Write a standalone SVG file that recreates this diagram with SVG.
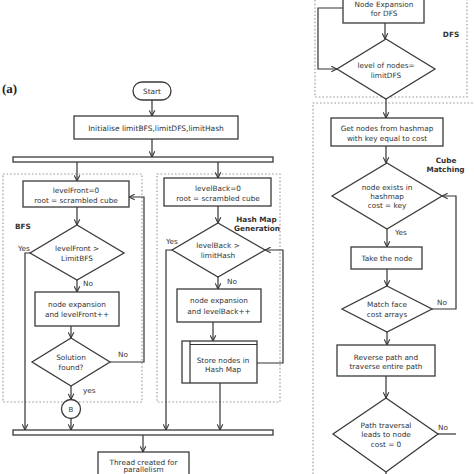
<svg xmlns="http://www.w3.org/2000/svg" width="474" height="474" viewBox="0 0 474 474">
<defs>
<marker id="ah" viewBox="0 0 8 8" refX="7.5" refY="4" markerWidth="7" markerHeight="7" orient="auto" markerUnits="userSpaceOnUse">
<path d="M1,0.8 L7.5,4 L1,7.2" fill="none" stroke="#333" stroke-width="1.2"/>
</marker>
<style>
.bx{fill:#fff;stroke:#3a3a3a;stroke-width:1.3}
.rg{fill:none;stroke:#9a9a9a;stroke-width:1.1;stroke-dasharray:1.6,2}
.ln{fill:none;stroke:#333;stroke-width:1.2}
.ar{fill:none;stroke:#333;stroke-width:1.2;marker-end:url(#ah)}
text{font-family:"DejaVu Sans","Liberation Sans",sans-serif;font-size:7.3px;fill:#333;text-anchor:middle}
.lb{text-anchor:start}
.bd{font-weight:bold}
.tag{font-family:"Liberation Serif",serif;font-weight:bold;font-size:13px;fill:#222;text-anchor:start}
</style>
</defs>
<rect width="474" height="474" fill="#fff"/>
<text x="2" y="93" class="tag">(a)</text>

<g id="regions">
<rect class="rg" x="3" y="174" width="139" height="228"/>
<rect class="rg" x="157" y="174" width="123" height="228"/>
<path class="rg" d="M315,0 V97 H467 V0"/>
<path class="rg" d="M313,474 V103 H474"/>
</g>

<g id="connectors">
<path class="ar" d="M152,100 V116"/>
<path class="ar" d="M152,139 V157"/>
<path class="ar" d="M77,162 V181"/>
<path class="ar" d="M218,162 V178"/>
<path class="ar" d="M77,207 V225"/>
<path class="ar" d="M30,253 H25 V430"/>
<path class="ar" d="M77,280 V292"/>
<path class="ar" d="M71,326 V338"/>
<path class="ar" d="M110,362 H144 V197 H129"/>
<path class="ar" d="M71,386 V399.5"/>
<path class="ar" d="M71,418.5 V430"/>
<path class="ar" d="M218,206 V223"/>
<path class="ar" d="M172,250 H166 V430"/>
<path class="ar" d="M218,277 V289"/>
<path class="ar" d="M213,322 V341"/>
<path class="ar" d="M257,363 H283 V250 H265"/>
<path class="ar" d="M220,383 V430"/>
<path class="ar" d="M143,435 V452"/>
<path class="ar" d="M385,23 V39"/>
<path class="ar" d="M343,8 H318 V69 H337"/>
<path class="ar" d="M386,99 V118"/>
<path class="ar" d="M386,146 V163"/>
<path class="ar" d="M387,229 V247"/>
<path class="ar" d="M387,269 V286"/>
<path class="ar" d="M432,309 H456 V196 H442"/>
<path class="ar" d="M387,332 V345"/>
<path class="ar" d="M386,376 V398"/>
<path class="ln" d="M438,434 H456"/>
<path class="ln" d="M386,472 V474"/>
</g>

<g id="start">
<rect class="bx" x="133" y="82" width="38" height="18" rx="9"/>
<text x="152" y="94">Start</text>
</g>
<g id="init">
<rect class="bx" x="74" y="116" width="164" height="23"/>
<text x="156" y="130.5" style="font-size:7.5px">Initialise limitBFS,limitDFS,limitHash</text>
</g>
<g id="fork">
<rect class="bx" x="13" y="157" width="260" height="5"/>
</g>
<g id="levelFront">
<rect class="bx" x="23" y="181" width="106" height="26"/>
<text x="76" y="192.5">levelFront=0</text>
<text x="76" y="202.5">root = scrambled cube</text>
</g>
<g id="bfsCheck">
<polygon class="bx" points="77,225 124,253 77,280 30,253"/>
<text x="77" y="250.5">levelFront &gt;</text>
<text x="77" y="260.5">LimitBFS</text>
</g>
<g id="expandFront">
<rect class="bx" x="35" y="292" width="84" height="34"/>
<text x="77" y="306.5">node expansion</text>
<text x="77" y="317">and levelFront++</text>
</g>
<g id="solution">
<polygon class="bx" points="71,338 110,362 71,386 32,362"/>
<text x="71" y="359.5">Solution</text>
<text x="71" y="369.5">found?</text>
</g>
<g id="B">
<circle class="bx" cx="71" cy="409" r="9.5"/>
<text x="71" y="411.5" style="font-size:7px">B</text>
</g>
<g id="levelBack">
<rect class="bx" x="164" y="178" width="107" height="28"/>
<text x="218" y="190.5">levelBack=0</text>
<text x="218" y="200.5">root = scrambled cube</text>
</g>
<g id="hashCheck">
<polygon class="bx" points="218,223 265,250 218,277 172,250"/>
<text x="218" y="247.5">levelBack &gt;</text>
<text x="218" y="258">limitHash</text>
</g>
<g id="expandBack">
<rect class="bx" x="177" y="289" width="84" height="33"/>
<text x="219" y="303">node expansion</text>
<text x="219" y="314">and levelBack++</text>
</g>
<g id="store">
<rect class="bx" x="182" y="341" width="75" height="42"/>
<path class="ln" d="M190,341 V383 M190,344.5 H257"/>
<text x="223" y="362.5">Store nodes in</text>
<text x="223" y="372">Hash Map</text>
</g>
<g id="join">
<rect class="bx" x="13" y="430" width="260" height="5"/>
</g>
<g id="thread">
<rect class="bx" x="98" y="452" width="91" height="30"/>
<text x="143.5" y="464.5">Thread created for</text>
<text x="143.5" y="472">parallelism</text>
</g>

<g id="dfsExpand">
<rect class="bx" x="343" y="-10" width="81" height="33"/>
<text x="384" y="6.5">Node Expansion</text>
<text x="384" y="16">for DFS</text>
</g>
<g id="dfsCheck">
<polygon class="bx" points="386,39 435,69 386,99 337,69"/>
<text x="386" y="68">level of nodes=</text>
<text x="386" y="77.5">limitDFS</text>
</g>
<g id="getNodes">
<rect class="bx" x="331" y="118" width="112" height="28"/>
<text x="387" y="131">Get nodes from hashmap</text>
<text x="387" y="140.5">with key equal to cost</text>
</g>
<g id="exists">
<polygon class="bx" points="387,163 442,196 387,229 332,196"/>
<text x="387" y="190">node exists in</text>
<text x="387" y="199">hashmap</text>
<text x="387" y="208">cost = key</text>
</g>
<g id="take">
<rect class="bx" x="351" y="247" width="71" height="22"/>
<text x="387" y="260.5">Take the node</text>
</g>
<g id="match">
<polygon class="bx" points="387,286 432,309 387,332 342,309"/>
<text x="387" y="307">Match face</text>
<text x="387" y="316.5">cost arrays</text>
</g>
<g id="reverse">
<rect class="bx" x="337" y="345" width="98" height="31"/>
<text x="386" y="359.5">Reverse path and</text>
<text x="386" y="368.5">traverse entire path</text>
</g>
<g id="pathCheck">
<polygon class="bx" points="386,398 438,434 386,472 333,434"/>
<text x="386" y="428">Path traversal</text>
<text x="386" y="437">leads to node</text>
<text x="386" y="446.5">cost = 0</text>
</g>

<g id="labels">
<text class="lb" x="18" y="251">Yes</text>
<text class="lb" x="83" y="286">No</text>
<text class="lb" x="118" y="357">No</text>
<text class="lb" x="83" y="393">yes</text>
<text class="lb" x="166" y="243.5">Yes</text>
<text class="lb" x="227" y="284">No</text>
<text class="lb" x="395" y="235">Yes</text>
<text class="lb" x="437" y="305">No</text>
<text class="lb" x="438" y="430">No</text>
<text class="lb bd" x="15" y="229">BFS</text>
<text class="bd" x="256.5" y="222">Hash Map</text>
<text class="bd" x="257" y="231">Generation</text>
<text class="bd" x="451" y="37">DFS</text>
<text class="bd" x="446" y="163">Cube</text>
<text class="bd" x="445.5" y="172">Matching</text>
</g>
</svg>
